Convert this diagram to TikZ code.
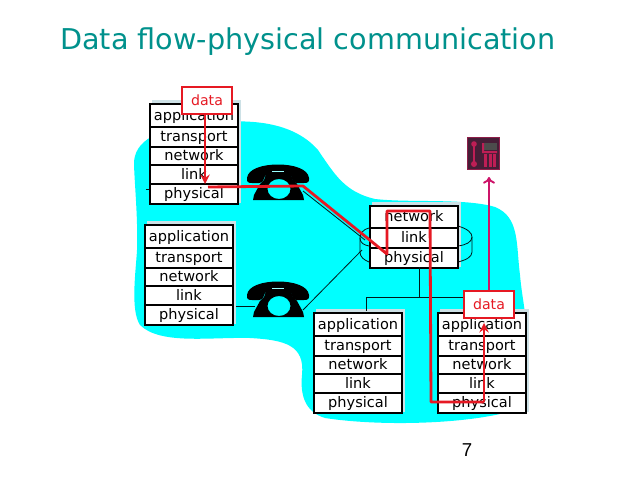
\documentclass[tikz,border=0pt]{standalone}
\usepackage{fontspec}
\usetikzlibrary{arrows.meta}
\setmainfont{DejaVu Sans}
\newfontfamily\numfont{Liberation Sans}
\definecolor{blob}{RGB}{0,255,255}
\definecolor{titleteal}{RGB}{0,145,140}
\definecolor{flowred}{RGB}{230,25,35}
\definecolor{wirepink}{RGB}{205,20,105}
\definecolor{icondark}{RGB}{70,30,55}
\definecolor{iconred}{RGB}{190,30,85}
\definecolor{shadowgrey}{RGB}{205,225,230}
\tikzset{
    layer/.style = {draw, line width = 1.5pt, fill = white, anchor = north west, inner sep = 0pt,
        minimum width = 66pt, text height = 8.8pt, text depth = 1.6pt, font = \fontsize{10.9}{12}\selectfont},
    wire/.style = {draw = black!80!teal, line width = 0.6pt},
    flow/.style = {draw = flowred, line width = 2.1pt},
    databox/.style = {draw = flowred, line width = 1.4pt, fill = white, text = flowred, inner sep = 0pt,
        minimum width = 37pt, minimum height = 20pt, font = \fontsize{10.6}{12}\selectfont},
    phone/.pic = {
        \fill (-31,-5) .. controls (-30,-14) and (-16,-18.5) .. (0,-18.5)
            .. controls (16,-18.5) and (30,-14) .. (31,-5)
            .. controls (31.5,-1) and (30,0) .. (26,0) -- (19,0)
            .. controls (15,0) and (14,-4) .. (13,-7)
            .. controls (12,-9) and (8,-10) .. (0,-10)
            .. controls (-8,-10) and (-12,-9) .. (-13,-7)
            .. controls (-14,-4) and (-15,0) .. (-19,0) -- (-26,0)
            .. controls (-30,0) and (-31.5,-1) .. (-31,-5) -- cycle;
        \fill[even odd rule] (-11,-12) -- (11,-12) -- (15,-3) -- (19,1) -- (25,12) -- (26,17) -- (-25,17) -- (-24,12) -- (-18,1) -- (-14,-3) -- cycle
            (1,6) ellipse (11.5 and 10);
        \fill[blob!40] (-6,-12.5) rectangle (6,-11.3);
    }
}
% rows of one stack, given by name, left and top
\newcommand{\fiverows}[3]{
    \fill[shadowgrey] (#2+3,#3-3) rectangle (#2+92,#3+100);
    \foreach \nm/\txt/\off/\hgt in {a/application/0/23, t/transport/23/20, n/network/43/18, l/link/61/19, p/physical/80/20}
        \node[layer, minimum height = \hgt*0.75pt] (#1\nm) at (#2,#3+\off) {\txt};
}
\begin{document}
\begin{tikzpicture}[x = 0.75pt, y = -0.75pt, > = stealth]
    \useasboundingbox (0, 0) rectangle (638, 478);

    % cloud behind everything
    \fill[blob] (134, 165) .. controls (133, 140) and (160, 128) .. (200, 124)
        .. controls (240, 119) and (290, 118) .. (318, 150)
        .. controls (335, 175) and (345, 192) .. (375, 199)
        .. controls (410, 203) and (465, 198) .. (495, 207)
        .. controls (520, 217) and (516, 245) .. (520, 275)
        .. controls (522, 300) and (530, 330) .. (528, 370)
        .. controls (527, 400) and (525, 410) .. (490, 416)
        .. controls (440, 425) and (370, 425) .. (325, 418)
        .. controls (305, 412) and (300, 395) .. (302, 375)
        .. controls (305, 345) and (285, 340) .. (250, 338)
        .. controls (210, 337) and (160, 345) .. (140, 325)
        .. controls (130, 310) and (136, 270) .. (137, 250)
        .. controls (138, 220) and (135, 190) .. (134, 165) -- cycle;

    \node[font = \fontsize{21.5}{26}\selectfont, text = titleteal, anchor = base west, inner sep = 0pt] (title) at (60, 50) {Data flow-physical communication};
    \node[font = \fontsize{14}{16}\numfont, anchor = base, inner sep = 0pt] (pagenum) at (467, 456) {7};

    \fiverows{h}{149}{103}
    \fiverows{g}{144}{224}
    \fiverows{c}{313}{312}
    \fiverows{d}{437}{312}

    % router
    \fill[shadowgrey] (372, 202) rectangle (461, 267);
    \draw[wire] (369, 228) .. controls (362, 230) and (360, 234) .. (360, 238) -- (360, 252) .. controls (360, 257) and (364, 260) .. (369, 262);
    \draw[wire] (360, 238) .. controls (360, 243) and (364, 245) .. (369, 246);
    \draw[wire] (458, 226) .. controls (468, 229) and (472, 233) .. (472, 237) -- (472, 252) .. controls (472, 257) and (466, 260) .. (458, 262);
    \draw[wire] (472, 237) .. controls (472, 242) and (466, 245) .. (458, 246);
    \foreach \nm/\txt/\off/\hgt in {n/network/0/22, l/link/22/20, p/physical/42/20}
        \node[layer, minimum height = \hgt*0.75pt] (r\nm) at (369, 205+\off) {\txt};

    % phones
    \pic (phoneA) at (278, 183) {phone};
    \pic (phoneB) at (278, 300) {phone};

    \coordinate (hubtop) at (419, 267);
    \coordinate (hubbar) at (419, 297);
    \coordinate (hubleft) at (366, 297);
    \coordinate (hubright) at (464, 297);
    \coordinate (hubdrop) at (366, 311);
    \draw[wire] (hubtop) -- (hubbar);
    \draw[wire] (hubleft) -- (hubright);
    \draw[wire] (hubleft) -- (hubdrop);

    \coordinate (phoneAa) at (303, 191);
    \coordinate (phoneAb) at (365, 240);
    \coordinate (phoneBa) at (303, 310);
    \coordinate (phoneBb) at (362, 250);
    \coordinate (phoneBc) at (255, 306);
    \coordinate (phoneBd) at (236, 306);
    \coordinate (phoneAc) at (146, 189);
    \coordinate (phoneAd) at (149, 189);
    \draw[wire] (phoneAa) -- (phoneAb);
    \draw[wire] (phoneBa) -- (phoneBb);
    \draw[wire] (phoneBc) -- (phoneBd);
    \draw[wire] (phoneAc) -- (phoneAd);

    % far phone
    \node[draw = iconred!60!icondark, fill = icondark, minimum size = 24pt, inner sep = 0pt] (farphone) at (483.5, 153.5) {};
    \draw[iconred, line width = 1.4pt] (474, 143) -- (474, 164);
    \fill[iconred] (474, 144) circle (2.8) (474, 164) circle (3);
    \fill[black!70] (484, 143) rectangle (497, 150);
    \fill[iconred] (484, 143) -- (484, 151) -- (497, 151) -- (497, 153) -- (482, 153) -- (482, 143) -- cycle;
    \foreach \px in {484, 488.5, 493}
        \fill[iconred] (\px, 154) rectangle (\px+3, 167);

    \coordinate (pinkfoot) at (489, 291);
    \coordinate (pinktip) at (489, 177);
    \draw[wirepink, line width = 1.4pt, -{To[length = 5pt, width = 9pt]}] (pinkfoot) -- (pinktip);

    % data path
    \node[databox] (dataA) at (207, 100.5) {data};
    \node[databox] (dataB) at (489, 304.5) {data};

    \coordinate (sendend) at (205, 184);
    \coordinate (hopa) at (208, 187);
    \coordinate (hopb) at (303, 186);
    \coordinate (hopc) at (387, 254);
    \coordinate (hopd) at (387, 211);
    \coordinate (hope) at (430, 211);
    \coordinate (hopf) at (431, 402);
    \coordinate (hopg) at (484, 402);
    \coordinate (recvend) at (484, 323);

    \draw[flow, ->] (dataA.south -| sendend) -- (sendend);
    \draw[flow, line join = round] (hopa) -- (hopb) -- (hopc) -- (hopd) -- (hope) -- (hopf) -- (hopg);
    \draw[flow, ->] (hopg) -- (recvend);
\end{tikzpicture}
\end{document}
